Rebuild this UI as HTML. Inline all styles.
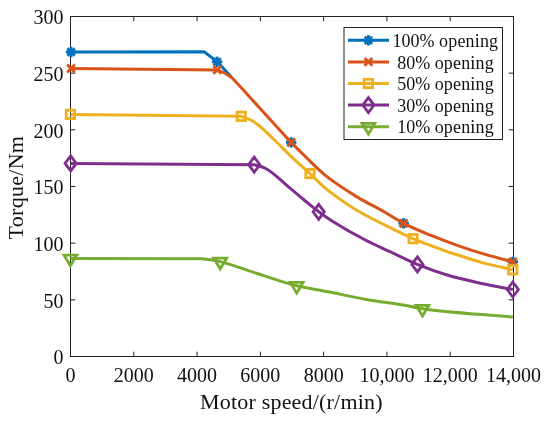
<!DOCTYPE html>
<html><head><meta charset="utf-8"><title>Torque vs motor speed</title>
<style>
html,body{margin:0;padding:0;background:#fff;}
body{width:550px;height:425px;overflow:hidden;}
svg{display:block;font-family:"Liberation Serif","Times New Roman",serif;fill:#111;}
</style></head><body>
<svg width="550" height="425" viewBox="0 0 550 425">
<rect width="550" height="425" fill="#fff"/>
<rect x="70.5" y="16.5" width="443.00" height="340.00" fill="none" stroke="#222" stroke-width="1"/>
<line x1="70.50" y1="356.5" x2="70.50" y2="351.7" stroke="#222" stroke-width="1"/>
<line x1="70.50" y1="16.5" x2="70.50" y2="21.3" stroke="#222" stroke-width="1"/>
<text x="70.50" y="382.0" font-size="20" text-anchor="middle">0</text>
<line x1="133.79" y1="356.5" x2="133.79" y2="351.7" stroke="#222" stroke-width="1"/>
<line x1="133.79" y1="16.5" x2="133.79" y2="21.3" stroke="#222" stroke-width="1"/>
<text x="133.79" y="382.0" font-size="20" text-anchor="middle">2000</text>
<line x1="197.07" y1="356.5" x2="197.07" y2="351.7" stroke="#222" stroke-width="1"/>
<line x1="197.07" y1="16.5" x2="197.07" y2="21.3" stroke="#222" stroke-width="1"/>
<text x="197.07" y="382.0" font-size="20" text-anchor="middle">4000</text>
<line x1="260.36" y1="356.5" x2="260.36" y2="351.7" stroke="#222" stroke-width="1"/>
<line x1="260.36" y1="16.5" x2="260.36" y2="21.3" stroke="#222" stroke-width="1"/>
<text x="260.36" y="382.0" font-size="20" text-anchor="middle">6000</text>
<line x1="323.64" y1="356.5" x2="323.64" y2="351.7" stroke="#222" stroke-width="1"/>
<line x1="323.64" y1="16.5" x2="323.64" y2="21.3" stroke="#222" stroke-width="1"/>
<text x="323.64" y="382.0" font-size="20" text-anchor="middle">8000</text>
<line x1="386.93" y1="356.5" x2="386.93" y2="351.7" stroke="#222" stroke-width="1"/>
<line x1="386.93" y1="16.5" x2="386.93" y2="21.3" stroke="#222" stroke-width="1"/>
<text x="386.93" y="382.0" font-size="20" text-anchor="middle">10,000</text>
<line x1="450.21" y1="356.5" x2="450.21" y2="351.7" stroke="#222" stroke-width="1"/>
<line x1="450.21" y1="16.5" x2="450.21" y2="21.3" stroke="#222" stroke-width="1"/>
<text x="450.21" y="382.0" font-size="20" text-anchor="middle">12,000</text>
<line x1="513.50" y1="356.5" x2="513.50" y2="351.7" stroke="#222" stroke-width="1"/>
<line x1="513.50" y1="16.5" x2="513.50" y2="21.3" stroke="#222" stroke-width="1"/>
<text x="513.50" y="382.0" font-size="20" text-anchor="middle">14,000</text>
<line x1="70.5" y1="356.50" x2="75.3" y2="356.50" stroke="#222" stroke-width="1"/>
<line x1="513.5" y1="356.50" x2="508.7" y2="356.50" stroke="#222" stroke-width="1"/>
<text x="63.6" y="364.30" font-size="20" text-anchor="end">0</text>
<line x1="70.5" y1="299.83" x2="75.3" y2="299.83" stroke="#222" stroke-width="1"/>
<line x1="513.5" y1="299.83" x2="508.7" y2="299.83" stroke="#222" stroke-width="1"/>
<text x="63.6" y="307.63" font-size="20" text-anchor="end">50</text>
<line x1="70.5" y1="243.17" x2="75.3" y2="243.17" stroke="#222" stroke-width="1"/>
<line x1="513.5" y1="243.17" x2="508.7" y2="243.17" stroke="#222" stroke-width="1"/>
<text x="63.6" y="250.97" font-size="20" text-anchor="end">100</text>
<line x1="70.5" y1="186.50" x2="75.3" y2="186.50" stroke="#222" stroke-width="1"/>
<line x1="513.5" y1="186.50" x2="508.7" y2="186.50" stroke="#222" stroke-width="1"/>
<text x="63.6" y="194.30" font-size="20" text-anchor="end">150</text>
<line x1="70.5" y1="129.83" x2="75.3" y2="129.83" stroke="#222" stroke-width="1"/>
<line x1="513.5" y1="129.83" x2="508.7" y2="129.83" stroke="#222" stroke-width="1"/>
<text x="63.6" y="137.63" font-size="20" text-anchor="end">200</text>
<line x1="70.5" y1="73.17" x2="75.3" y2="73.17" stroke="#222" stroke-width="1"/>
<line x1="513.5" y1="73.17" x2="508.7" y2="73.17" stroke="#222" stroke-width="1"/>
<text x="63.6" y="80.97" font-size="20" text-anchor="end">250</text>
<line x1="70.5" y1="16.50" x2="75.3" y2="16.50" stroke="#222" stroke-width="1"/>
<line x1="513.5" y1="16.50" x2="508.7" y2="16.50" stroke="#222" stroke-width="1"/>
<text x="63.6" y="24.30" font-size="20" text-anchor="end">300</text>
<text x="291.4" y="409.4" font-size="22" letter-spacing="0.19" text-anchor="middle">Motor speed/(r/min)</text>
<text transform="translate(23.4,187.6) rotate(-90)" font-size="22" letter-spacing="0.29" text-anchor="middle">Torque/Nm</text>
<path d="M70.50 52.00 L204.10 51.80 L217.10 61.60 L231.60 77.30" fill="none" stroke="#0072BD" stroke-width="3" stroke-linejoin="round"/>
<line x1="65.80" y1="52.00" x2="76.20" y2="52.00" stroke="#0072BD" stroke-width="2.8"/><line x1="67.32" y1="48.32" x2="74.68" y2="55.68" stroke="#0072BD" stroke-width="2.8"/><line x1="71.00" y1="46.80" x2="71.00" y2="57.20" stroke="#0072BD" stroke-width="2.8"/><line x1="74.68" y1="48.32" x2="67.32" y2="55.68" stroke="#0072BD" stroke-width="2.8"/>
<line x1="211.90" y1="61.80" x2="222.30" y2="61.80" stroke="#0072BD" stroke-width="2.8"/><line x1="213.42" y1="58.12" x2="220.78" y2="65.48" stroke="#0072BD" stroke-width="2.8"/><line x1="217.10" y1="56.60" x2="217.10" y2="67.00" stroke="#0072BD" stroke-width="2.8"/><line x1="220.78" y1="58.12" x2="213.42" y2="65.48" stroke="#0072BD" stroke-width="2.8"/>
<line x1="286.00" y1="142.40" x2="296.40" y2="142.40" stroke="#0072BD" stroke-width="2.8"/><line x1="287.52" y1="138.72" x2="294.88" y2="146.08" stroke="#0072BD" stroke-width="2.8"/><line x1="291.20" y1="137.20" x2="291.20" y2="147.60" stroke="#0072BD" stroke-width="2.8"/><line x1="294.88" y1="138.72" x2="287.52" y2="146.08" stroke="#0072BD" stroke-width="2.8"/>
<line x1="398.40" y1="223.30" x2="408.80" y2="223.30" stroke="#0072BD" stroke-width="2.8"/><line x1="399.92" y1="219.62" x2="407.28" y2="226.98" stroke="#0072BD" stroke-width="2.8"/><line x1="403.60" y1="218.10" x2="403.60" y2="228.50" stroke="#0072BD" stroke-width="2.8"/><line x1="407.28" y1="219.62" x2="399.92" y2="226.98" stroke="#0072BD" stroke-width="2.8"/>
<line x1="507.60" y1="261.90" x2="518.00" y2="261.90" stroke="#0072BD" stroke-width="2.8"/><line x1="509.12" y1="258.22" x2="516.48" y2="265.58" stroke="#0072BD" stroke-width="2.8"/><line x1="512.80" y1="256.70" x2="512.80" y2="267.10" stroke="#0072BD" stroke-width="2.8"/><line x1="516.48" y1="258.22" x2="509.12" y2="265.58" stroke="#0072BD" stroke-width="2.8"/>
<path d="M70.50 68.50 L217.30 69.90 L225.00 73.20 L232.00 77.70 C238.80 85.13 245.62 92.55 252.40 100.00 C258.18 106.35 263.90 112.76 269.70 119.10 C276.83 126.90 283.88 134.78 291.20 142.40 C295.80 147.19 300.53 151.87 305.30 156.50 C311.87 162.87 318.16 169.58 325.30 175.30 C335.64 183.58 346.90 190.69 358.20 197.60 C366.60 202.73 375.54 206.93 384.10 211.80 C390.66 215.53 396.88 219.86 403.60 223.30 C412.90 228.06 422.62 231.96 432.30 235.90 C441.44 239.62 450.68 243.07 460.00 246.30 C468.59 249.28 477.28 252.02 486.00 254.60 C494.88 257.23 503.87 259.47 512.80 261.90" fill="none" stroke="#D95319" stroke-width="3" stroke-linejoin="round"/>
<line x1="67.10" y1="64.60" x2="74.90" y2="72.40" stroke="#D95319" stroke-width="2.8"/><line x1="67.10" y1="72.40" x2="74.90" y2="64.60" stroke="#D95319" stroke-width="2.8"/>
<line x1="213.40" y1="66.00" x2="221.20" y2="73.80" stroke="#D95319" stroke-width="2.8"/><line x1="213.40" y1="73.80" x2="221.20" y2="66.00" stroke="#D95319" stroke-width="2.8"/>
<line x1="287.30" y1="138.50" x2="295.10" y2="146.30" stroke="#D95319" stroke-width="2.8"/><line x1="287.30" y1="146.30" x2="295.10" y2="138.50" stroke="#D95319" stroke-width="2.8"/>
<line x1="399.70" y1="219.40" x2="407.50" y2="227.20" stroke="#D95319" stroke-width="2.8"/><line x1="399.70" y1="227.20" x2="407.50" y2="219.40" stroke="#D95319" stroke-width="2.8"/>
<line x1="508.90" y1="258.00" x2="516.70" y2="265.80" stroke="#D95319" stroke-width="2.8"/><line x1="508.90" y1="265.80" x2="516.70" y2="258.00" stroke="#D95319" stroke-width="2.8"/>
<path d="M70.40 114.40 L241.30 116.30 C245.37 118.03 249.76 119.14 253.50 121.50 C261.39 126.48 267.68 133.64 274.50 140.00 C279.81 144.95 284.74 150.30 290.00 155.30 C296.55 161.53 303.40 167.43 310.00 173.60 C315.15 178.41 319.86 183.72 325.30 188.20 C334.19 195.53 343.71 202.12 353.50 208.20 C363.34 214.31 373.78 219.43 384.10 224.70 C393.66 229.58 403.24 234.46 413.10 238.70 C424.00 243.38 435.20 247.37 446.40 251.30 C450.90 252.88 455.46 254.26 460.00 255.70 C467.69 258.14 475.32 260.79 483.10 262.90 C492.91 265.56 502.90 267.50 512.80 269.80" fill="none" stroke="#EDB120" stroke-width="3" stroke-linejoin="round"/>
<rect x="66.20" y="110.20" width="8.40" height="8.40" fill="none" stroke="#EDB120" stroke-width="2.8"/>
<rect x="237.10" y="112.10" width="8.40" height="8.40" fill="none" stroke="#EDB120" stroke-width="2.8"/>
<rect x="305.80" y="169.40" width="8.40" height="8.40" fill="none" stroke="#EDB120" stroke-width="2.8"/>
<rect x="408.90" y="234.50" width="8.40" height="8.40" fill="none" stroke="#EDB120" stroke-width="2.8"/>
<rect x="508.60" y="265.60" width="8.40" height="8.40" fill="none" stroke="#EDB120" stroke-width="2.8"/>
<path d="M70.50 163.40 L254.20 164.70 C257.90 165.87 261.88 166.36 265.30 168.20 C274.63 173.21 281.82 181.47 290.00 188.20 C294.73 192.10 299.37 196.11 304.10 200.00 C308.93 203.97 313.68 208.06 318.70 211.80 C323.14 215.11 327.71 218.26 332.40 221.20 C343.10 227.91 354.10 234.16 365.30 240.00 C373.38 244.21 381.75 247.83 390.00 251.70 C399.12 255.97 408.09 260.58 417.40 264.40 C426.90 268.30 436.57 271.84 446.40 274.80 C458.46 278.43 470.79 281.11 483.10 283.80 C492.95 285.95 502.90 287.60 512.80 289.50" fill="none" stroke="#7E2F8E" stroke-width="3" stroke-linejoin="round"/>
<path d="M65.10 163.40 L70.70 155.90 L76.30 163.40 L70.70 170.90 Z" fill="none" stroke="#7E2F8E" stroke-width="2.8" stroke-linejoin="miter" stroke-miterlimit="10"/>
<path d="M248.60 164.70 L254.20 157.20 L259.80 164.70 L254.20 172.20 Z" fill="none" stroke="#7E2F8E" stroke-width="2.8" stroke-linejoin="miter" stroke-miterlimit="10"/>
<path d="M313.10 211.80 L318.70 204.30 L324.30 211.80 L318.70 219.30 Z" fill="none" stroke="#7E2F8E" stroke-width="2.8" stroke-linejoin="miter" stroke-miterlimit="10"/>
<path d="M411.80 264.40 L417.40 256.90 L423.00 264.40 L417.40 271.90 Z" fill="none" stroke="#7E2F8E" stroke-width="2.8" stroke-linejoin="miter" stroke-miterlimit="10"/>
<path d="M507.20 289.50 L512.80 282.00 L518.40 289.50 L512.80 297.00 Z" fill="none" stroke="#7E2F8E" stroke-width="2.8" stroke-linejoin="miter" stroke-miterlimit="10"/>
<path d="M70.40 258.50 L202.90 258.70 C208.67 259.67 214.52 260.21 220.20 261.60 C232.52 264.61 244.31 269.47 256.40 273.30 C269.81 277.55 283.05 282.40 296.70 285.80 C307.07 288.39 317.71 289.74 328.20 291.80 C340.95 294.30 353.61 297.24 366.40 299.50 C379.05 301.74 391.84 303.14 404.50 305.30 C410.52 306.33 416.45 307.85 422.50 308.70 C452.44 312.91 482.70 314.30 512.80 317.10" fill="none" stroke="#77AC30" stroke-width="3" stroke-linejoin="round"/>
<path d="M64.00 255.10 L76.80 255.10 L70.40 265.80 Z" fill="none" stroke="#77AC30" stroke-width="2.8" stroke-linejoin="miter" stroke-miterlimit="10"/>
<path d="M213.80 258.20 L226.60 258.20 L220.20 268.90 Z" fill="none" stroke="#77AC30" stroke-width="2.8" stroke-linejoin="miter" stroke-miterlimit="10"/>
<path d="M290.30 282.40 L303.10 282.40 L296.70 293.10 Z" fill="none" stroke="#77AC30" stroke-width="2.8" stroke-linejoin="miter" stroke-miterlimit="10"/>
<path d="M416.10 305.30 L428.90 305.30 L422.50 316.00 Z" fill="none" stroke="#77AC30" stroke-width="2.8" stroke-linejoin="miter" stroke-miterlimit="10"/>
<rect x="344.0" y="27.5" width="158.50" height="112.00" fill="#fff" stroke="#222" stroke-width="1"/>
<line x1="348" y1="40.30" x2="389" y2="40.30" stroke="#0072BD" stroke-width="3"/>
<line x1="363.20" y1="40.30" x2="373.60" y2="40.30" stroke="#0072BD" stroke-width="2.8"/><line x1="364.72" y1="36.62" x2="372.08" y2="43.98" stroke="#0072BD" stroke-width="2.8"/><line x1="368.40" y1="35.10" x2="368.40" y2="45.50" stroke="#0072BD" stroke-width="2.8"/><line x1="372.08" y1="36.62" x2="364.72" y2="43.98" stroke="#0072BD" stroke-width="2.8"/>
<text x="392.6" y="46.90" font-size="18">100% <tspan letter-spacing="0.17">opening</tspan></text>
<line x1="348" y1="61.90" x2="389" y2="61.90" stroke="#D95319" stroke-width="3"/>
<line x1="364.50" y1="58.00" x2="372.30" y2="65.80" stroke="#D95319" stroke-width="2.8"/><line x1="364.50" y1="65.80" x2="372.30" y2="58.00" stroke="#D95319" stroke-width="2.8"/>
<text x="397.2" y="68.50" font-size="18">80% <tspan letter-spacing="0.17">opening</tspan></text>
<line x1="348" y1="83.50" x2="389" y2="83.50" stroke="#EDB120" stroke-width="3"/>
<rect x="364.20" y="79.30" width="8.40" height="8.40" fill="none" stroke="#EDB120" stroke-width="2.8"/>
<text x="397.2" y="90.10" font-size="18">50% <tspan letter-spacing="0.17">opening</tspan></text>
<line x1="348" y1="105.10" x2="389" y2="105.10" stroke="#7E2F8E" stroke-width="3"/>
<path d="M362.80 105.10 L368.40 97.60 L374.00 105.10 L368.40 112.60 Z" fill="none" stroke="#7E2F8E" stroke-width="2.8" stroke-linejoin="miter" stroke-miterlimit="10"/>
<text x="397.2" y="111.70" font-size="18">30% <tspan letter-spacing="0.17">opening</tspan></text>
<line x1="348" y1="126.70" x2="389" y2="126.70" stroke="#77AC30" stroke-width="3"/>
<path d="M362.00 123.30 L374.80 123.30 L368.40 134.00 Z" fill="none" stroke="#77AC30" stroke-width="2.8" stroke-linejoin="miter" stroke-miterlimit="10"/>
<text x="397.2" y="133.30" font-size="18">10% <tspan letter-spacing="0.17">opening</tspan></text>
</svg></body></html>
